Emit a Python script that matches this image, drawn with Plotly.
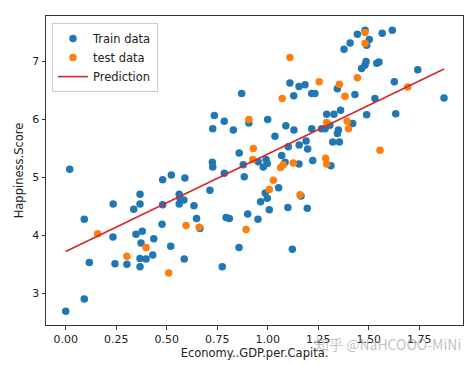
import plotly.graph_objects as go

# Train data
train_x = [0.02, 0.235, 0.337, 0.368, 0.368, 0.48, 0.523, 0.48, 0.562, 0.562, 0.59, 0.585,
           0.092, 0.0, 0.092, 0.117, 0.234, 0.244, 0.303, 0.348, 0.379, 0.373, 0.436, 0.368,
           0.398, 0.368, 0.431, 0.477, 0.52, 0.587, 0.871, 1.110, 1.155, 1.185, 1.218, 1.234,
           1.129, 0.736, 0.785, 0.907, 1.0, 1.09, 0.728, 0.83, 0.859, 0.726, 0.728, 0.879,
           0.953, 1.13, 1.218, 1.036, 1.156, 1.19, 1.198, 1.102, 0.992, 0.998, 0.978, 1.069,
           1.086, 1.155, 1.223, 0.785, 0.884, 0.566, 0.714, 0.635, 0.648, 0.665, 0.794, 0.81,
           0.901, 0.952, 1.008, 0.965, 0.988, 0.998, 1.054, 1.10, 1.165, 1.196, 0.775, 0.858,
           1.122, 1.482, 1.444, 1.408, 1.378, 1.49, 1.503, 1.567, 1.617, 1.487, 1.482, 1.465,
           1.540, 1.551, 1.345, 1.432, 1.627, 1.743, 1.873, 1.531, 1.490, 1.634, 1.361, 1.328,
           1.292, 1.421, 1.267, 1.308, 1.284, 1.35, 1.345, 1.322, 1.355, 1.313]
train_y = [5.14, 4.54, 4.45, 4.71, 4.54, 4.96, 5.04, 4.53, 4.71, 4.54, 4.99, 4.61,
           4.28, 2.69, 2.90, 3.53, 3.97, 3.51, 3.50, 4.02, 4.07, 3.87, 3.94, 3.60,
           3.59, 3.46, 3.66, 4.19, 3.81, 3.59, 6.45, 6.63, 6.57, 6.60, 6.45, 6.45,
           6.41, 6.07, 5.97, 5.94, 6.00, 5.89, 5.84, 5.82, 5.42, 5.26, 5.18, 5.22,
           5.27, 5.82, 5.84, 5.71, 5.56, 5.63, 5.49, 5.53, 5.31, 5.24, 5.18, 5.38,
           5.26, 5.23, 5.29, 5.07, 5.01, 4.64, 4.78, 4.51, 4.29, 4.12, 4.31, 4.29,
           4.37, 4.28, 4.44, 4.58, 4.73, 4.64, 4.82, 4.48, 4.68, 4.47, 3.46, 3.79,
           3.76, 7.54, 7.47, 7.32, 7.21, 7.28, 7.38, 7.49, 7.54, 7.00, 6.94, 6.88,
           6.97, 6.99, 6.53, 6.43, 6.65, 6.86, 6.37, 6.36, 6.08, 6.10, 6.16, 6.09,
           6.09, 5.93, 5.84, 5.90, 5.84, 5.82, 5.76, 5.61, 5.61, 5.20]

# Test data
test_x = [0.158, 0.303, 0.398, 0.51, 0.596, 1.110, 1.255, 1.072, 0.907, 0.929, 0.926,
          1.077, 1.064, 1.127, 0.661, 0.893, 1.008, 1.028, 1.16, 1.482, 1.482, 1.355,
          1.444, 1.383, 1.693, 1.292, 1.394, 1.40, 1.287, 1.292, 1.556]
test_y = [4.03, 3.64, 3.79, 3.35, 4.17, 7.07, 6.65, 6.36, 6.00, 5.50, 5.31,
          5.22, 5.17, 5.25, 4.14, 4.10, 4.79, 4.95, 4.70, 7.50, 7.31, 6.61,
          6.72, 6.40, 6.56, 5.95, 5.97, 5.84, 5.33, 5.23, 5.47]

# Prediction line
pred_x = [0.0, 1.873]
pred_y = [3.72, 6.87]

x_ticks = [0.0, 0.25, 0.5, 0.75, 1.0, 1.25, 1.5, 1.75]
x_tick_labels = ["0.00", "0.25", "0.50", "0.75", "1.00", "1.25", "1.50", "1.75"]
y_ticks = [3, 4, 5, 6, 7]

font_family = "DejaVu Sans"

fig = go.Figure()
fig.add_trace(go.Scatter(x=train_x, y=train_y, mode="markers", name="Train data",
                         marker=dict(color="#1f77b4", size=7.5, line=dict(width=0))))
fig.add_trace(go.Scatter(x=test_x, y=test_y, mode="markers", name="test data",
                         marker=dict(color="#ff7f0e", size=7.5, line=dict(width=0))))
fig.add_trace(go.Scatter(x=pred_x, y=pred_y, mode="lines", name="Prediction",
                         line=dict(color="#d62728", width=1.6)))

axis_common = dict(showline=True, linecolor="#333333", linewidth=1, mirror=True,
                   ticks="outside", ticklen=3.5, tickwidth=1, tickcolor="#333333",
                   showgrid=False, zeroline=False,
                   tickfont=dict(family=font_family, size=11, color="#222222"))

# page has an 8px body margin, so the figure is sized/positioned to compensate
fig.update_layout(
    width=466, height=357,
    margin=dict(l=38, r=11, t=8, b=40),
    paper_bgcolor="white", plot_bgcolor="white",
    font=dict(family=font_family, size=11, color="#222222"),
    xaxis=dict(range=[-0.0975, 1.967], tickvals=x_ticks, ticktext=x_tick_labels,
               title=dict(text="Economy..GDP.per.Capita.", standoff=2,
                          font=dict(family=font_family, size=11.5, color="#222222")),
               **axis_common),
    yaxis=dict(range=[2.453, 7.786], tickvals=y_ticks,
               title=dict(text="Happiness.Score", standoff=6,
                          font=dict(family=font_family, size=11.5, color="#222222")),
               **axis_common),
    legend=dict(x=0.0144, y=0.977, xanchor="left", yanchor="top",
                bgcolor="rgba(255,255,255,0.8)", bordercolor="#cccccc", borderwidth=1,
                font=dict(family=font_family, size=11.5, color="#222222"),
                tracegroupgap=0, itemwidth=30),
    showlegend=True,
)

fig.add_annotation(text="知乎 @NaHCOOO-MiNi", xref="paper", yref="paper",
                   x=1.0, y=-0.022, xanchor="right", yanchor="top", showarrow=False,
                   font=dict(family="Noto Sans CJK SC", size=14, color="rgba(150,150,150,0.6)"))

fig.write_html("out.html")
